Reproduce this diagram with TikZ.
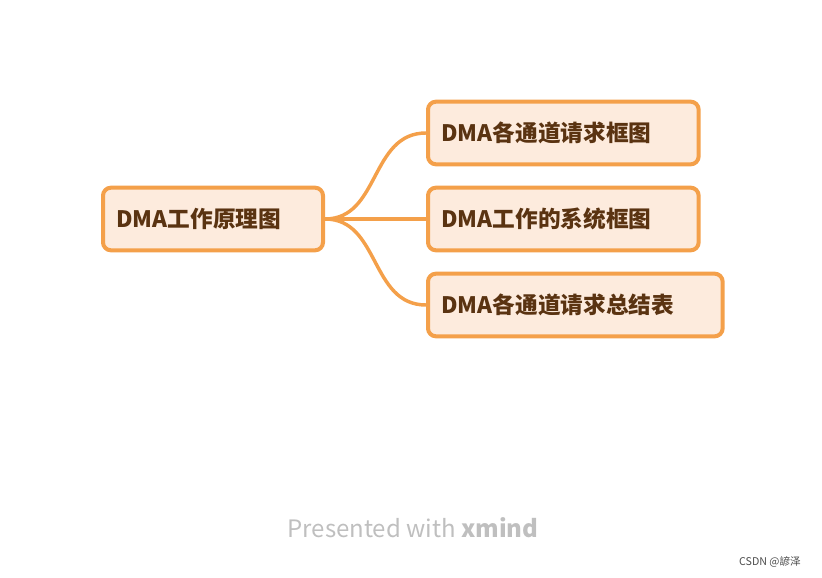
\documentclass[tikz,border=0pt]{standalone}
\usepackage{fontspec}
\setmainfont{Noto Sans CJK SC}
\definecolor{bord}{HTML}{F4A04A}
\definecolor{fillc}{HTML}{FDEBDD}
\definecolor{txt}{HTML}{5A3311}
\begin{document}
\begin{tikzpicture}[x=0.75pt,y=-0.75pt,
  topic/.style={draw=bord,line width=3pt,fill=fillc,rounded corners=6pt,text=txt,font=\fontsize{17}{20}\selectfont\bfseries,anchor=west,minimum height=47pt,inner xsep=10pt,align=left},
  conn/.style={draw=bord,line width=2.6pt}]
\useasboundingbox (0,0) rectangle (822,578);
\node[topic,text width=145pt] (root) at (101,219) {DMA工作原理图};
\node[topic,text width=183pt] (c1) at (426,133) {DMA各通道请求框图};
\node[topic,text width=183pt] (c2) at (426,219) {DMA工作的系统框图};
\node[topic,text width=201pt] (c3) at (426,305) {DMA各通道请求总结表};
\draw[conn] (root.east) .. controls (380,219) and (370,133) .. (c1.west);
\draw[conn] (root.east) -- (c2.west);
\draw[conn] (root.east) .. controls (380,219) and (370,305) .. (c3.west);
\node[text=black!25,font=\fontsize{18}{22}\selectfont] (pw) at (413,528) {Presented with \textbf{xmind}};
\node[text=black!70,font=\fontsize{8}{10}\selectfont] (cs) at (770,562) {CSDN @諺泽};
\end{tikzpicture}
\end{document}
